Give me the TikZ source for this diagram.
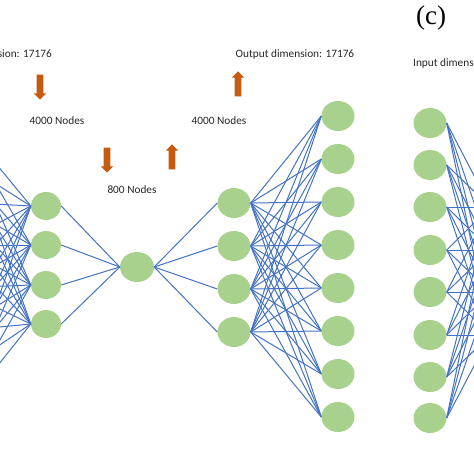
\documentclass[tikz,border=0pt]{standalone}
\usepackage{fontspec}
\setmainfont{Carlito}
\newfontfamily\panelfont{Liberation Serif}
\usepackage{xcolor}
\usetikzlibrary{shapes.geometric, shapes.arrows}
\definecolor{nodegreen}{HTML}{A9D18E}
\definecolor{linkblue}{HTML}{4472C4}
\definecolor{arroworange}{HTML}{C55A11}
\definecolor{labelgray}{HTML}{262626}

\begin{document}
\begin{tikzpicture}[x=1pt, y=-1pt]
    \tikzset{neuron/.style = {ellipse, fill=nodegreen, minimum width=33pt, minimum height=30pt, inner sep=0pt}}
    \tikzset{neuronsm/.style = {minimum width=30pt, minimum height=28pt}}
    \tikzset{link/.style = {draw=linkblue, line width=1pt}}
    \tikzset{annot/.style = {text=labelgray, font=\fontsize{11.3}{13}\selectfont, inner sep=0pt}}
    \tikzset{blockarrow/.style = {single arrow, fill=arroworange, minimum height=25pt, inner xsep=0pt, inner ysep=3.2pt, single arrow head extend=3pt, single arrow head indent=0pt}}

    \useasboundingbox (0,0) rectangle (474,474);
    \clip (0,0) rectangle (474,474);

    % Autoencoder layers
    \foreach \y [count=\i] in {116,159,202,245,288,331,374,417}
        \node [neuron] (a\i) at (-60,\y) {};
    \foreach \y [count=\i] in {206,245,285,324}
        \node [neuron, neuronsm] (b\i) at (46,\y) {};
    \node [neuron, minimum width=34pt] (mid) at (137,267) {};
    \foreach \y [count=\i] in {203,246,289,332}
        \node [neuron] (d\i) at (234,\y) {};
    \foreach \y [count=\i] in {116,159,202,245,288,331,374,417}
        \node [neuron] (e\i) at (338,\y) {};

    % Panel (c) layers
    \foreach \y [count=\i] in {123,165,207,250,292,335,377,418}
        \node [neuron] (f\i) at (430,\y) {};
    \foreach \y [count=\i] in {207,250,292,335}
        \node [neuron] (g\i) at (507,\y) {};

    % Connections
    \foreach \i in {1,...,8} \foreach \j in {1,...,4}
        \draw [link] (a\i.east) -- (b\j.west);
    \foreach \j in {1,...,4}
        \draw [link] (b\j.east) -- (mid.west);
    \foreach \j in {1,...,4}
        \draw [link] (mid.east) -- (d\j.west);
    \foreach \j in {1,...,4} \foreach \i in {1,...,8}
        \draw [link] (d\j.east) -- (e\i.west);
    \foreach \i in {1,...,8} \foreach \j in {1,...,4}
        \draw [link] (f\i.east) -- (g\j.west);

    % Labels and arrows
    \node [annot, anchor=east] (indim) at (52,54) {Input dimension: 17176};
    \node [blockarrow, rotate=-90] (down1) at (40,85.5) {};
    \node [annot] (enc4k) at (57,121) {4000 Nodes};
    \node [blockarrow, rotate=-90] (down2) at (107,158.5) {};
    \node [blockarrow, rotate=90] (up2) at (172,158.5) {};
    \node [annot] (code) at (132,190) {800 Nodes};
    \node [annot] (dec4k) at (219,121) {4000 Nodes};
    \node [blockarrow, rotate=90] (up1) at (238,85.5) {};
    \node [annot] (outdim) at (295,54) {Output dimension: 17176};
    \node [font=\panelfont\fontsize{27}{31}\selectfont, inner sep=0pt] (panel) at (431,18) {(c)};
    \node [annot, anchor=west] (indim2) at (413,63) {Input dimension: 17176};
\end{tikzpicture}
\end{document}
